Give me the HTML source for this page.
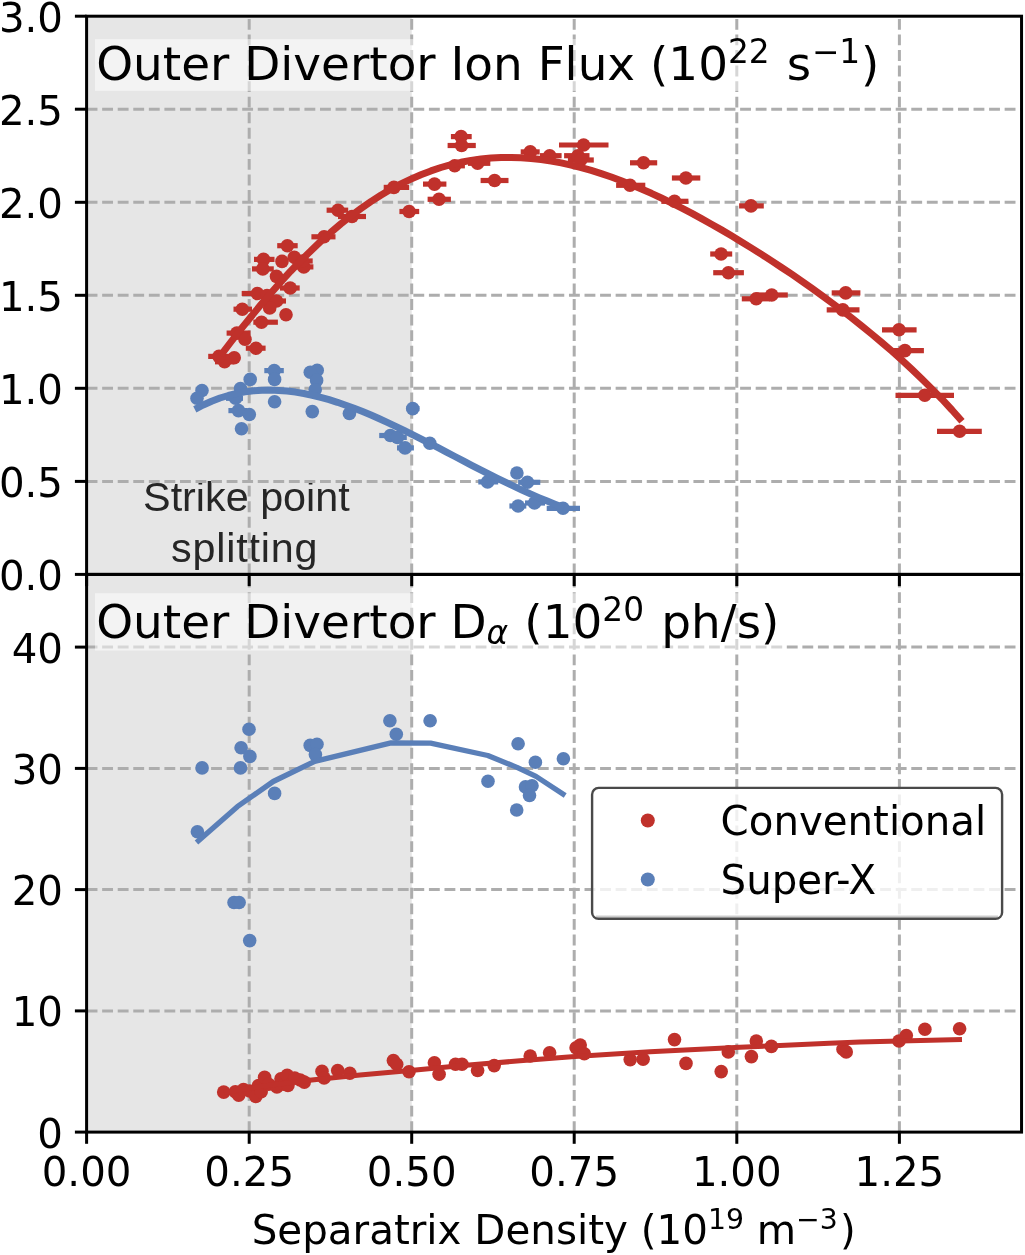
<!DOCTYPE html>
<html lang="en">
<head>
<meta charset="utf-8">
<title>Outer Divertor Ion Flux and D-alpha vs Separatrix Density</title>
<style>html,body{margin:0;padding:0;background:#fff}svg{display:block}</style>
</head>
<body>
<svg width="1025" height="1255" viewBox="0 0 1025 1255">
<rect width="1025" height="1255" fill="#fff"/>
<rect x="86.6" y="16.2" width="325.1" height="1115.9" fill="#e6e6e6"/>
<g font-family="'Liberation Sans', Arial, Helvetica, sans-serif" font-size="41.3" fill="#262626" text-anchor="middle">
<text x="246.4" y="511.3">Strike point</text>
<text x="244.6" y="561.9" letter-spacing="0.8">splitting</text>
</g>
<g stroke="#adadad" stroke-width="3.0" stroke-dasharray="10.86 4.70" fill="none">
<path d="M249.2 574.4 V16.2"/>
<path d="M249.2 1132.1 V574.4"/>
<path d="M411.7 574.4 V16.2"/>
<path d="M411.7 1132.1 V574.4"/>
<path d="M574.2 574.4 V16.2"/>
<path d="M574.2 1132.1 V574.4"/>
<path d="M736.8 574.4 V16.2"/>
<path d="M736.8 1132.1 V574.4"/>
<path d="M899.4 574.4 V16.2"/>
<path d="M899.4 1132.1 V574.4"/>
<path d="M86.6 481.4 H1021.55"/>
<path d="M86.6 388.3 H1021.55"/>
<path d="M86.6 295.3 H1021.55"/>
<path d="M86.6 202.3 H1021.55"/>
<path d="M86.6 109.2 H1021.55"/>
<path d="M86.6 1010.9 H1021.55"/>
<path d="M86.6 889.6 H1021.55"/>
<path d="M86.6 768.4 H1021.55"/>
<path d="M86.6 647.1 H1021.55"/>
</g>
<g stroke="#c0312b" stroke-width="5.2" fill="#c0312b">
<path d="M277.2 245.7 H297.7"/>
<path d="M254.0 259.4 H274.5"/>
<path d="M252.0 268.9 H273.8"/>
<path d="M294.0 266.9 H313.4"/>
<path d="M280.0 288.0 H299.7"/>
<path d="M241.7 293.5 H268.0"/>
<path d="M266.0 301.0 H286.0"/>
<path d="M233.5 309.2 H252.0"/>
<path d="M253.3 322.2 H277.9"/>
<path d="M226.6 333.1 H250.5"/>
<path d="M245.8 348.2 H265.6"/>
<path d="M215.0 361.8 H234.0"/>
<path d="M208.2 356.4 H232.0"/>
<path d="M292.0 261.0 H312.7"/>
<path d="M311.4 236.8 H335.5"/>
<path d="M326.6 210.2 H348.2"/>
<path d="M338.0 216.5 H366.0"/>
<path d="M383.7 187.4 H409.1"/>
<path d="M399.4 211.5 H419.2"/>
<path d="M423.0 184.1 H446.4"/>
<path d="M427.6 199.3 H450.9"/>
<path d="M450.9 136.6 H471.7"/>
<path d="M447.6 145.5 H475.8"/>
<path d="M445.9 165.8 H464.9"/>
<path d="M468.0 163.3 H490.3"/>
<path d="M480.6 180.5 H508.5"/>
<path d="M520.7 151.9 H539.7"/>
<path d="M540.0 155.7 H561.6"/>
<path d="M559.0 145.0 H608.5"/>
<path d="M564.1 155.7 H589.5"/>
<path d="M567.9 160.0 H593.8"/>
<path d="M630.0 162.8 H657.2"/>
<path d="M616.1 185.3 H645.3"/>
<path d="M671.9 178.0 H700.3"/>
<path d="M661.3 201.3 H688.4"/>
<path d="M739.1 205.9 H763.8"/>
<path d="M710.2 254.0 H732.2"/>
<path d="M713.2 272.7 H743.9"/>
<path d="M741.8 298.8 H770.0"/>
<path d="M757.0 295.0 H787.8"/>
<path d="M831.7 292.9 H860.4"/>
<path d="M826.7 309.9 H859.5"/>
<path d="M882.0 329.8 H916.6"/>
<path d="M891.7 350.6 H923.9"/>
<path d="M895.5 395.3 H954.0"/>
<path d="M937.0 431.3 H981.8"/>
</g>
<g fill="#c0312b">
<circle cx="287.4" cy="245.7" r="6.8"/>
<circle cx="263.5" cy="259.4" r="6.8"/>
<circle cx="262.8" cy="268.9" r="6.8"/>
<circle cx="294.3" cy="257.3" r="6.8"/>
<circle cx="282.0" cy="261.4" r="6.8"/>
<circle cx="303.8" cy="266.9" r="6.8"/>
<circle cx="276.5" cy="276.4" r="6.8"/>
<circle cx="290.2" cy="288.0" r="6.8"/>
<circle cx="257.4" cy="293.5" r="6.8"/>
<circle cx="267.0" cy="295.6" r="6.8"/>
<circle cx="276.5" cy="301.0" r="6.8"/>
<circle cx="269.7" cy="307.9" r="6.8"/>
<circle cx="242.3" cy="309.2" r="6.8"/>
<circle cx="286.0" cy="314.7" r="6.8"/>
<circle cx="261.5" cy="322.2" r="6.8"/>
<circle cx="236.9" cy="333.1" r="6.8"/>
<circle cx="245.0" cy="339.3" r="6.8"/>
<circle cx="256.0" cy="348.2" r="6.8"/>
<circle cx="234.2" cy="357.7" r="6.8"/>
<circle cx="224.6" cy="361.8" r="6.8"/>
<circle cx="219.0" cy="356.4" r="6.8"/>
<circle cx="302.5" cy="261.0" r="6.8"/>
<circle cx="324.1" cy="236.8" r="6.8"/>
<circle cx="338.0" cy="210.2" r="6.8"/>
<circle cx="352.0" cy="216.5" r="6.8"/>
<circle cx="393.9" cy="187.4" r="6.8"/>
<circle cx="409.1" cy="211.5" r="6.8"/>
<circle cx="434.5" cy="184.1" r="6.8"/>
<circle cx="439.0" cy="199.3" r="6.8"/>
<circle cx="461.1" cy="136.6" r="6.8"/>
<circle cx="461.6" cy="145.5" r="6.8"/>
<circle cx="454.7" cy="165.8" r="6.8"/>
<circle cx="477.6" cy="163.3" r="6.8"/>
<circle cx="494.6" cy="180.5" r="6.8"/>
<circle cx="530.3" cy="151.9" r="6.8"/>
<circle cx="549.7" cy="155.7" r="6.8"/>
<circle cx="583.6" cy="145.0" r="6.8"/>
<circle cx="578.0" cy="155.7" r="6.8"/>
<circle cx="580.6" cy="160.0" r="6.8"/>
<circle cx="643.5" cy="162.8" r="6.8"/>
<circle cx="630.0" cy="185.3" r="6.8"/>
<circle cx="685.9" cy="178.0" r="6.8"/>
<circle cx="674.5" cy="201.3" r="6.8"/>
<circle cx="751.0" cy="205.9" r="6.8"/>
<circle cx="721.1" cy="254.0" r="6.8"/>
<circle cx="728.4" cy="272.7" r="6.8"/>
<circle cx="756.2" cy="298.8" r="6.8"/>
<circle cx="771.7" cy="295.0" r="6.8"/>
<circle cx="845.7" cy="292.9" r="6.8"/>
<circle cx="842.8" cy="309.9" r="6.8"/>
<circle cx="899.0" cy="329.8" r="6.8"/>
<circle cx="904.9" cy="350.6" r="6.8"/>
<circle cx="924.8" cy="395.3" r="6.8"/>
<circle cx="959.6" cy="431.3" r="6.8"/>
</g>
<path d="M220.5 355.6 L230.5 342.5 L240.5 329.7 L250.6 317.2 L260.6 305.1 L270.6 293.4 L280.6 282.1 L290.6 271.2 L300.7 260.8 L310.7 250.9 L320.7 241.4 L330.7 232.5 L340.7 224.0 L350.8 216.0 L360.8 208.6 L370.8 201.6 L380.8 195.2 L390.8 189.3 L400.9 183.9 L410.9 179.1 L420.9 174.7 L430.9 170.9 L440.9 167.5 L451.0 164.7 L461.0 162.3 L471.0 160.4 L481.0 159.0 L491.0 158.0 L501.1 157.5 L511.1 157.4 L521.1 157.7 L531.1 158.4 L541.1 159.5 L551.2 161.0 L561.2 162.9 L571.2 165.1 L581.2 167.6 L591.2 170.4 L601.3 173.6 L611.3 177.0 L621.3 180.7 L631.3 184.7 L641.4 188.9 L651.4 193.3 L661.4 198.0 L671.4 202.8 L681.4 207.9 L691.5 213.1 L701.5 218.6 L711.5 224.2 L721.5 229.9 L731.5 235.8 L741.6 241.9 L751.6 248.1 L761.6 254.4 L771.6 260.9 L781.6 267.5 L791.7 274.2 L801.7 281.1 L811.7 288.2 L821.7 295.4 L831.7 302.8 L841.8 310.3 L851.8 318.0 L861.8 326.0 L871.8 334.1 L881.8 342.5 L891.9 351.2 L901.9 360.1 L911.9 369.3 L921.9 378.9 L931.9 388.9 L942.0 399.2 L952.0 410.0 L962.0 421.3" fill="none" stroke="#c0312b" stroke-width="7.0" stroke-linejoin="round" stroke-linecap="butt"/>
<g stroke="#5a7fb8" stroke-width="5.2" fill="#5a7fb8">
<path d="M226.0 398.3 H243.0"/>
<path d="M228.4 410.6 H247.0"/>
<path d="M264.3 370.6 H283.8"/>
<path d="M406.5 408.6 H419.5"/>
<path d="M379.2 435.5 H399.0"/>
<path d="M388.0 437.4 H406.8"/>
<path d="M397.0 447.9 H413.9"/>
<path d="M478.3 481.9 H498.2"/>
<path d="M518.1 482.3 H540.3"/>
<path d="M509.4 506.0 H526.3"/>
<path d="M525.0 503.0 H545.0"/>
<path d="M546.7 508.3 H580.0"/>
</g>
<g fill="#5a7fb8">
<circle cx="202.0" cy="390.5" r="6.8"/>
<circle cx="197.0" cy="398.3" r="6.8"/>
<circle cx="250.2" cy="379.4" r="6.8"/>
<circle cx="240.5" cy="388.6" r="6.8"/>
<circle cx="235.6" cy="398.3" r="6.8"/>
<circle cx="238.5" cy="410.6" r="6.8"/>
<circle cx="249.3" cy="414.5" r="6.8"/>
<circle cx="241.5" cy="428.8" r="6.8"/>
<circle cx="274.2" cy="370.6" r="6.8"/>
<circle cx="274.6" cy="379.4" r="6.8"/>
<circle cx="274.6" cy="401.8" r="6.8"/>
<circle cx="317.2" cy="370.2" r="6.8"/>
<circle cx="310.3" cy="372.2" r="6.8"/>
<circle cx="316.6" cy="380.4" r="6.8"/>
<circle cx="315.2" cy="389.7" r="6.8"/>
<circle cx="312.3" cy="411.6" r="6.8"/>
<circle cx="349.4" cy="413.5" r="6.8"/>
<circle cx="412.7" cy="408.6" r="6.8"/>
<circle cx="390.4" cy="435.5" r="6.8"/>
<circle cx="397.5" cy="437.4" r="6.8"/>
<circle cx="405.0" cy="447.9" r="6.8"/>
<circle cx="429.8" cy="443.2" r="6.8"/>
<circle cx="487.6" cy="481.9" r="6.8"/>
<circle cx="516.9" cy="473.0" r="6.8"/>
<circle cx="527.4" cy="482.3" r="6.8"/>
<circle cx="518.1" cy="506.0" r="6.8"/>
<circle cx="534.5" cy="503.0" r="6.8"/>
<circle cx="563.0" cy="508.3" r="6.8"/>
</g>
<path d="M194.8 409.3 L203.2 405.0 L211.6 401.2 L220.0 398.0 L228.4 395.5 L236.8 393.4 L245.1 391.9 L253.5 390.8 L261.9 390.2 L270.3 390.1 L278.7 390.4 L287.1 391.1 L295.5 392.1 L303.9 393.5 L312.3 395.3 L320.7 397.4 L329.1 399.7 L337.4 402.3 L345.8 405.2 L354.2 408.3 L362.6 411.6 L371.0 415.1 L379.4 418.8 L387.8 422.6 L396.2 426.6 L404.6 430.7 L413.0 434.8 L421.4 439.1 L429.7 443.4 L438.1 447.7 L446.5 452.1 L454.9 456.5 L463.3 460.9 L471.7 465.3 L480.1 469.6 L488.5 473.9 L496.9 478.1 L505.3 482.2 L513.7 486.2 L522.0 490.1 L530.4 493.9 L538.8 497.6 L547.2 501.1 L555.6 504.4 L564.0 507.5" fill="none" stroke="#5a7fb8" stroke-width="7.0" stroke-linejoin="round" stroke-linecap="butt"/>
<g fill="#5a7fb8">
<circle cx="202.1" cy="767.9" r="6.8"/>
<circle cx="249.0" cy="729.3" r="6.8"/>
<circle cx="241.1" cy="747.7" r="6.8"/>
<circle cx="249.9" cy="756.4" r="6.8"/>
<circle cx="240.5" cy="767.9" r="6.8"/>
<circle cx="274.6" cy="793.4" r="6.8"/>
<circle cx="197.4" cy="831.8" r="6.8"/>
<circle cx="234.0" cy="902.5" r="6.8"/>
<circle cx="239.1" cy="902.5" r="6.8"/>
<circle cx="249.7" cy="940.6" r="6.8"/>
<circle cx="310.2" cy="745.4" r="6.8"/>
<circle cx="317.0" cy="744.3" r="6.8"/>
<circle cx="315.4" cy="754.6" r="6.8"/>
<circle cx="389.9" cy="720.7" r="6.8"/>
<circle cx="396.3" cy="734.3" r="6.8"/>
<circle cx="430.1" cy="720.7" r="6.8"/>
<circle cx="518.1" cy="743.8" r="6.8"/>
<circle cx="535.4" cy="762.2" r="6.8"/>
<circle cx="563.4" cy="758.7" r="6.8"/>
<circle cx="488.0" cy="781.3" r="6.8"/>
<circle cx="525.5" cy="786.9" r="6.8"/>
<circle cx="532.0" cy="785.8" r="6.8"/>
<circle cx="529.5" cy="795.5" r="6.8"/>
<circle cx="516.7" cy="810.0" r="6.8"/>
</g>
<path d="M196.5 842.6 L237.3 806.7 L273.2 781.5 L314.7 761.3 L391.0 742.9 L430.6 743.2 L487.8 755.5 L517.0 767.4 L536.0 776.4 L565.2 795.5" fill="none" stroke="#5a7fb8" stroke-width="5.3" stroke-linejoin="round" stroke-linecap="butt"/>
<g fill="#c0312b">
<circle cx="223.7" cy="1092.1" r="6.8"/>
<circle cx="235.3" cy="1091.7" r="6.8"/>
<circle cx="238.7" cy="1095.1" r="6.8"/>
<circle cx="243.5" cy="1089.6" r="6.8"/>
<circle cx="249.6" cy="1091.0" r="6.8"/>
<circle cx="255.8" cy="1096.4" r="6.8"/>
<circle cx="258.5" cy="1085.5" r="6.8"/>
<circle cx="261.2" cy="1091.7" r="6.8"/>
<circle cx="264.6" cy="1077.3" r="6.8"/>
<circle cx="268.7" cy="1084.2" r="6.8"/>
<circle cx="276.9" cy="1086.9" r="6.8"/>
<circle cx="281.0" cy="1078.7" r="6.8"/>
<circle cx="284.5" cy="1084.2" r="6.8"/>
<circle cx="287.2" cy="1075.3" r="6.8"/>
<circle cx="287.9" cy="1085.5" r="6.8"/>
<circle cx="294.7" cy="1078.0" r="6.8"/>
<circle cx="300.2" cy="1080.0" r="6.8"/>
<circle cx="304.3" cy="1082.1" r="6.8"/>
<circle cx="322.0" cy="1071.2" r="6.8"/>
<circle cx="324.1" cy="1078.0" r="6.8"/>
<circle cx="337.7" cy="1070.5" r="6.8"/>
<circle cx="349.8" cy="1073.2" r="6.8"/>
<circle cx="393.4" cy="1060.6" r="6.8"/>
<circle cx="396.7" cy="1064.2" r="6.8"/>
<circle cx="409.0" cy="1071.8" r="6.8"/>
<circle cx="434.4" cy="1062.8" r="6.8"/>
<circle cx="439.1" cy="1074.3" r="6.8"/>
<circle cx="455.5" cy="1064.2" r="6.8"/>
<circle cx="462.0" cy="1064.2" r="6.8"/>
<circle cx="477.6" cy="1070.5" r="6.8"/>
<circle cx="494.2" cy="1065.6" r="6.8"/>
<circle cx="530.2" cy="1056.0" r="6.8"/>
<circle cx="549.6" cy="1052.7" r="6.8"/>
<circle cx="576.1" cy="1047.8" r="6.8"/>
<circle cx="580.2" cy="1045.1" r="6.8"/>
<circle cx="584.3" cy="1053.8" r="6.8"/>
<circle cx="630.2" cy="1059.6" r="6.8"/>
<circle cx="643.1" cy="1059.3" r="6.8"/>
<circle cx="674.5" cy="1039.6" r="6.8"/>
<circle cx="686.0" cy="1063.4" r="6.8"/>
<circle cx="721.2" cy="1071.6" r="6.8"/>
<circle cx="728.3" cy="1051.9" r="6.8"/>
<circle cx="751.4" cy="1056.6" r="6.8"/>
<circle cx="756.3" cy="1041.0" r="6.8"/>
<circle cx="771.4" cy="1046.4" r="6.8"/>
<circle cx="843.0" cy="1049.2" r="6.8"/>
<circle cx="846.2" cy="1051.9" r="6.8"/>
<circle cx="899.0" cy="1041.0" r="6.8"/>
<circle cx="906.3" cy="1035.5" r="6.8"/>
<circle cx="924.9" cy="1029.2" r="6.8"/>
<circle cx="959.6" cy="1028.7" r="6.8"/>
</g>
<path d="M224.0 1092.5 L260.0 1086.5 L309.3 1080.3 L360.0 1075.0 L410.4 1070.4 L460.0 1065.8 L520.0 1060.8 L574.8 1056.6 L650.0 1051.8 L740.0 1047.3 L780.0 1045.5 L829.3 1043.2 L860.0 1041.9 L900.0 1040.9 L962.0 1039.4" fill="none" stroke="#c0312b" stroke-width="5.0" stroke-linejoin="round" stroke-linecap="butt"/>
<rect x="95" y="39.1" width="787" height="51.8" fill="#fff" fill-opacity="0.5"/>
<rect x="95" y="593.2" width="687.2" height="57.4" fill="#fff" fill-opacity="0.5"/>
<g stroke="#000" stroke-width="3.0" fill="none" stroke-linecap="square">
<rect x="86.6" y="16.2" width="934.9499999999999" height="558.2"/>
<rect x="86.6" y="574.4" width="934.9499999999999" height="557.7"/>
</g>
<g stroke="#000" stroke-width="3.0" fill="none">
<path d="M86.6 1132.1 v11.7"/>
<path d="M86.6 574.4 v11.7"/>
<path d="M249.2 1132.1 v11.7"/>
<path d="M249.2 574.4 v11.7"/>
<path d="M411.7 1132.1 v11.7"/>
<path d="M411.7 574.4 v11.7"/>
<path d="M574.2 1132.1 v11.7"/>
<path d="M574.2 574.4 v11.7"/>
<path d="M736.8 1132.1 v11.7"/>
<path d="M736.8 574.4 v11.7"/>
<path d="M899.4 1132.1 v11.7"/>
<path d="M899.4 574.4 v11.7"/>
<path d="M86.6 574.4 h-11.7"/>
<path d="M86.6 481.4 h-11.7"/>
<path d="M86.6 388.3 h-11.7"/>
<path d="M86.6 295.3 h-11.7"/>
<path d="M86.6 202.3 h-11.7"/>
<path d="M86.6 109.2 h-11.7"/>
<path d="M86.6 16.2 h-11.7"/>
<path d="M86.6 1132.1 h-11.7"/>
<path d="M86.6 1010.9 h-11.7"/>
<path d="M86.6 889.6 h-11.7"/>
<path d="M86.6 768.4 h-11.7"/>
<path d="M86.6 647.1 h-11.7"/>
</g>
<g font-family="'DejaVu Sans', 'Liberation Sans', sans-serif" fill="#000">
<g font-size="40.3" text-anchor="end">
<text x="63" y="589.8">0.0</text>
<text x="63" y="496.8">0.5</text>
<text x="63" y="403.7">1.0</text>
<text x="63" y="310.7">1.5</text>
<text x="63" y="217.7">2.0</text>
<text x="63" y="124.6">2.5</text>
<text x="63" y="31.6">3.0</text>
<text x="63" y="1147.5">0</text>
<text x="63" y="1026.3">10</text>
<text x="63" y="905.0">20</text>
<text x="63" y="783.8">30</text>
<text x="63" y="662.5">40</text>
</g>
<g font-size="40.3" text-anchor="middle">
<text x="86.6" y="1186.3">0.00</text>
<text x="249.2" y="1186.3">0.25</text>
<text x="411.7" y="1186.3">0.50</text>
<text x="574.2" y="1186.3">0.75</text>
<text x="736.8" y="1186.3">1.00</text>
<text x="899.4" y="1186.3">1.25</text>
</g>
<text x="96.2" y="79.6" font-size="46.9">Outer Divertor Ion Flux (10<tspan font-size="32.8" dy="-17.1">22</tspan><tspan dy="17.1" dx="2.2"> s</tspan><tspan font-size="32.8" dy="-17.1" dx="0.6">−1</tspan><tspan dy="17.1" dx="0.7">)</tspan></text>
<text x="96.2" y="637.6" font-size="46.9">Outer Divertor D<tspan font-size="32.8" font-style="italic" dy="6.5">α</tspan><tspan dy="-6.5" dx="1.2"> (10</tspan><tspan font-size="32.8" dy="-17.1">20</tspan><tspan dy="17.1" dx="2.4"> ph/s)</tspan></text>
<text x="251.7" y="1244.4" font-size="40.4">Separatrix Density (10<tspan font-size="28.3" dy="-15.8">19</tspan><tspan dy="15.8"> m</tspan><tspan font-size="28.3" dy="-15.8">−3</tspan><tspan dy="15.8" dx="2.2">)</tspan></text>
</g>
<defs><linearGradient id="lgsh" x1="0" y1="0" x2="0" y2="1"><stop offset="0" stop-color="#4d4d4d" stop-opacity="0"/><stop offset="1" stop-color="#4d4d4d" stop-opacity="0.55"/></linearGradient></defs>
<rect x="592.1" y="787.9" width="410" height="131.0" rx="6.5" ry="6.5" fill="#fff" fill-opacity="0.8"/>
<rect x="596" y="914.6" width="402" height="3.6" fill="url(#lgsh)"/>
<rect x="592.1" y="787.9" width="410" height="131.0" rx="6.5" ry="6.5" fill="none" stroke="#4a4a4a" stroke-width="2.4"/>
<circle cx="647.8" cy="820.5" r="7" fill="#c0312b"/>
<circle cx="647.8" cy="879.5" r="7" fill="#5a7fb8"/>
<g font-family="'DejaVu Sans', 'Liberation Sans', sans-serif" fill="#000" font-size="40.3">
<text x="720.6" y="834.7">Conventional</text>
<text x="720.6" y="893.7">Super-X</text>
</g>
</svg>
</body>
</html>
